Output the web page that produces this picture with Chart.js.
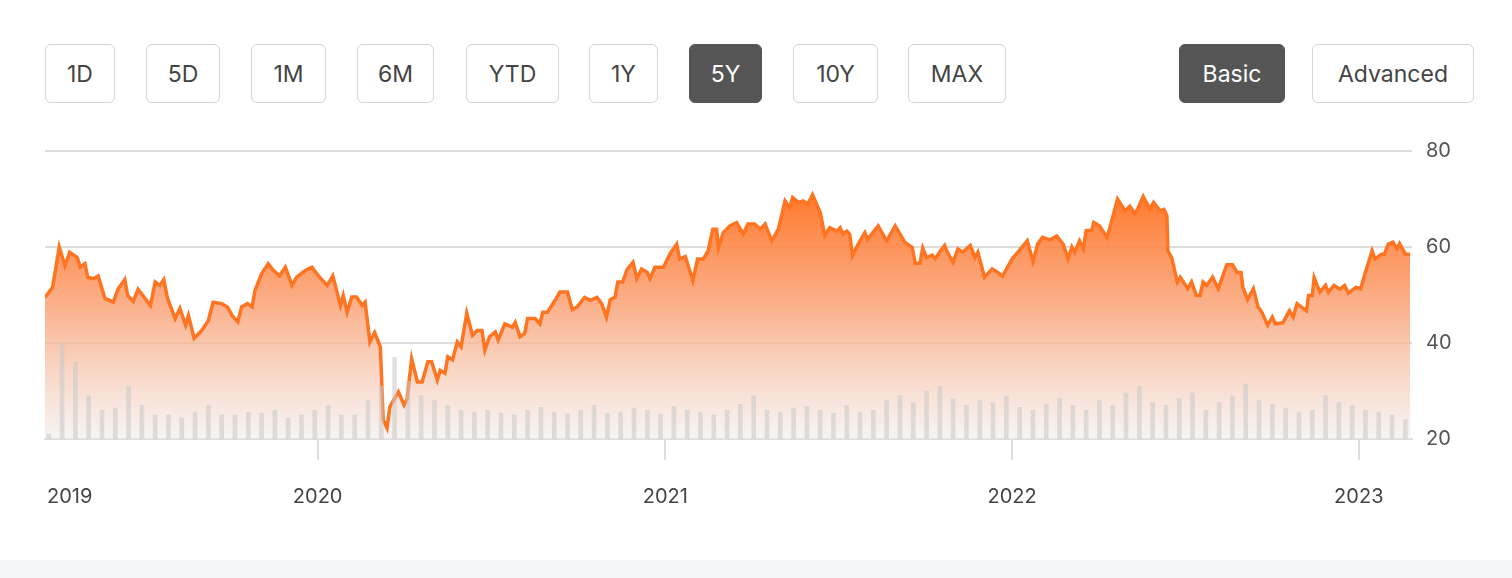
<!DOCTYPE html>
<html>
<head>
<meta charset="utf-8">
<script src="https://cdn.jsdelivr.net/npm/chart.js@4"></script>
<style>
  body { margin: 0; width: 1512px; height: 578px; background: #fff; font-family: Inter, "Noto Sans", sans-serif; position: relative; overflow: hidden; }
  .btn { position: absolute; top: 44px; height: 59px; box-sizing: border-box; border: 1.5px solid #d4d4d4; border-radius: 6px; background: #fff; color: #444; font-size: 23px; display: flex; align-items: center; justify-content: center; }
  .btn.on { background: #555; border-color: #555; color: #fff; }
  #wrap { position: absolute; left: 0; top: 125px; width: 1512px; height: 405px; }
  #foot { position: absolute; left: 0; top: 560px; width: 1512px; height: 18px; background: #f4f5f8; }
</style>
</head>
<body>
<div class="btn" style="left:45px;width:70px">1D</div>
<div class="btn" style="left:146px;width:74px">5D</div>
<div class="btn" style="left:251px;width:75px">1M</div>
<div class="btn" style="left:357px;width:77px">6M</div>
<div class="btn" style="left:466px;width:93px">YTD</div>
<div class="btn" style="left:589px;width:69px">1Y</div>
<div class="btn on" style="left:689px;width:73px">5Y</div>
<div class="btn" style="left:793px;width:85px">10Y</div>
<div class="btn" style="left:908px;width:98px">MAX</div>
<div class="btn on" style="left:1179px;width:106px">Basic</div>
<div class="btn" style="left:1312px;width:162px">Advanced</div>
<div id="wrap"><canvas id="my-chart"></canvas></div>
<div id="foot"></div>
<script>
'use strict';

/* DATA: days since start of range, price */
let priceDays = [0,8,15,21,26,34,37,42,45,51,56,63,72,77,84,87,93,98,111,116,121,125,129,137,142,148,151,157,165,172,177,186,192,197,203,207,213,218,221,228,235,240,247,253,260,265,274,281,289,297,303,311,314,318,323,328,334,337,342,347,353,356,360,363,372,378,381,386,392,397,403,407,413,416,421,424,429,434,438,444,450,455,460,463,468,474,477,484,492,495,500,505,508,516,521,524,529,537,542,550,555,560,568,574,581,586,591,595,600,603,608,613,619,623,628,634,637,642,651,658,665,668,674,682,687,693,698,703,707,709,714,721,728,735,740,747,753,758,765,772,779,784,787,793,798,803,808,816,821,826,834,837,840,844,847,850,856,863,866,877,886,895,900,905,913,916,921,924,928,934,937,942,947,950,956,961,966,974,979,982,989,997,1003,1008,1018,1024,1034,1040,1045,1050,1058,1065,1072,1077,1081,1084,1089,1093,1096,1102,1104,1110,1118,1123,1129,1137,1142,1147,1150,1156,1163,1167,1174,1178,1181,1182,1186,1192,1195,1203,1207,1212,1216,1219,1223,1229,1235,1244,1250,1255,1259,1261,1266,1272,1277,1281,1287,1292,1295,1303,1310,1314,1318,1328,1330,1334,1336,1342,1348,1351,1357,1363,1368,1372,1380,1385,1389,1397,1400,1407,1410,1414,1419,1423,1426,1432,1437];
let prices = [49.5,51.6,60,56.1,58.9,57.8,55.8,56.5,53.7,53.4,54,49.3,48.5,51.3,53.2,49.9,48.7,51.2,47.8,52.7,52,53.2,49.3,45.1,47.2,43.7,45.7,41,42.6,44.7,48.5,48.2,47.5,45.7,44.4,47.5,48.2,47.5,50.9,54.4,56.5,55.2,54,55.8,52,53.7,55.1,55.8,53.7,52,54,47.8,49.9,46.4,49.6,49.6,47.8,48.5,40.2,42.2,39.2,24,22.3,26.7,29.8,27.1,28.2,36.7,31.9,31.9,36.1,36.1,32.3,34.3,33.7,37.1,36.5,40.2,39.2,46.2,41.6,42.6,42.6,38.5,41.3,42.3,40.6,44,43.3,44.3,41.3,42,45.1,45.1,44,46.4,46.4,48.9,50.6,50.6,47,47.5,49.5,48.9,49.5,48.2,45.4,49,49.5,52.7,52.7,55.4,56.8,53.4,55.4,54.7,53.4,55.8,55.8,58.6,60.6,57.5,58,53,57.5,57.5,59.2,63.7,63.7,59.9,63,64.4,65.1,62.7,64.8,64.8,63.7,64.8,61.3,63.7,69.6,68.2,70.3,69.3,69.6,68.9,70.9,67.2,62.4,64,63.3,64,62.7,63.3,62.7,58.2,60.6,63,61.6,64.4,61.3,64.4,62.7,61,59.9,56.6,56.6,59.8,57.8,58.3,57.5,59,60.3,58.9,56.8,59.6,58.9,60.3,57.8,58.9,53.7,55.4,54.7,53.9,57.5,58.9,61.3,57,60.6,62,61.5,62.3,60.5,57.5,60,58.9,61.3,59.6,63.4,63.5,65.1,64.4,62,65.5,70,67.5,68.5,67,67.8,70.5,67.9,69.3,67.5,67.8,66.5,59.2,57.8,52.7,53.7,51.3,52.7,49.9,49.9,52.7,52,53.7,51.3,56.3,56.3,54.7,54.7,51.6,49,51.3,47.5,46.4,43.7,45.4,44,44.2,46.7,45.4,48.2,46.7,49.9,49.9,53.6,50.6,52,50.6,52,51.2,52,50.4,51.6,51.3,54.1,59.2,57.5,58.5,58.5,60.6,61,59.6,60.7,58.5,58.5];

/* volume, one bar every two weeks */
let volumeStepDays = 14;
let volumes = [5,100,80,45,30,32,55,35,25,25,22,28,35,25,25,28,27,30,22,25,30,35,25,25,40,55,85,60,45,40,35,30,28,30,27,25,30,33,28,26,30,35,27,28,32,30,26,34,30,28,25,30,36,45,30,28,32,34,30,27,35,28,30,40,45,38,50,55,42,35,40,38,45,33,30,36,42,35,30,40,35,48,55,38,35,42,48,30,38,45,57,40,36,32,28,30,45,38,35,30,28,25,20];

/* axis */
let lastDay = 1439;
let yearTickDays = [287, 653, 1018, 1383];
let yearLabels = ['2020', '2021', '2022', '2023'];
let firstYearLabel = '2019';
let priceTicks = [20, 40, 60, 80];

let canvasElem = document.getElementById('my-chart').getContext('2d');

function areaGradient(context) {
  let area = context.chart.chartArea;
  if (!area) return 'rgba(255,130,60,0.6)';
  let g = context.chart.ctx.createLinearGradient(0, area.top + 40, 0, area.bottom);
  g.addColorStop(0, 'rgba(255,112,30,0.95)');
  g.addColorStop(0.45, 'rgba(250,160,115,0.85)');
  g.addColorStop(1, 'rgba(242,236,234,0.6)');
  return g;
}

let firstLabelPlugin = {
  id: 'firstLabel',
  afterDraw(chart) {
    let ctx = chart.ctx;
    ctx.save();
    ctx.font = '20px Inter, "Noto Sans", sans-serif';
    ctx.fillStyle = '#444';
    ctx.textAlign = 'left';
    ctx.textBaseline = 'middle';
    ctx.fillText(firstYearLabel, chart.scales.x.getPixelForValue(0) + 2, 372);
    ctx.restore();
  },
};

function renderChart() {
  Chart.defaults.font.family = 'Inter, "Noto Sans", sans-serif';
  Chart.defaults.font.size = 20;
  Chart.defaults.color = '#444';

  let myChartObj = {
    data: {
      datasets: [
        {
          type: 'line',
          data: priceDays.map((d, i) => ({ x: d, y: prices[i] })),
          borderColor: '#ff7420',
          borderWidth: 3.5,
          pointRadius: 0,
          tension: 0,
          fill: 'start',
          backgroundColor: areaGradient,
          yAxisID: 'y',
          order: 2,
        },
        {
          type: 'bar',
          data: volumes.map((v, i) => ({ x: i * volumeStepDays + 4, y: v })),
          backgroundColor: 'rgba(200,200,200,0.55)',
          barThickness: 4,
          yAxisID: 'vol',
          order: 1,
        },
      ],
    },
    options: {
      responsive: false,
      animation: false,
      layout: { padding: { left: 45, top: 0, right: 0, bottom: 0 } },
      plugins: { legend: { display: false }, tooltip: { enabled: false } },
      scales: {
        x: {
          type: 'linear',
          min: 0,
          max: lastDay,
          offset: false,
          bounds: 'ticks',
          afterBuildTicks(scale) {
            scale.ticks = yearTickDays.map((d) => ({ value: d }));
          },
          afterFit(scale) { scale.height = 91; },
          ticks: {
            callback: (v, i) => yearLabels[i],
            padding: 25,
            maxRotation: 0,
            color: '#444',
          },
          grid: { drawOnChartArea: false, offset: false, tickLength: 21, color: '#ddd', lineWidth: 2 },
          border: { color: '#ddd', width: 2 },
        },
        y: {
          position: 'right',
          min: 20,
          max: 80,
          afterBuildTicks(scale) {
            scale.ticks = priceTicks.map((v) => ({ value: v }));
          },
          afterFit(scale) { scale.width = 100; },
          ticks: { padding: 14, color: '#555' },
          grid: { color: '#dcdcdc', lineWidth: 2, tickLength: 0 },
          border: { display: false },
        },
        vol: {
          display: false,
          min: 0,
          max: 300,
        },
      },
    },
    plugins: [firstLabelPlugin],
  };
  canvasElem.canvas.width = 1512;
  canvasElem.canvas.height = 405;
  new Chart(canvasElem, myChartObj);
}
renderChart();
</script>
</body>
</html>
